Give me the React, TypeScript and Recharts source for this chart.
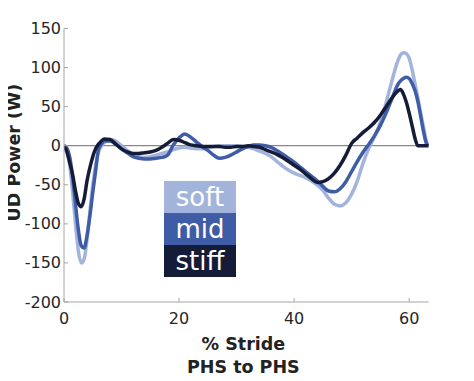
import { LineChart, Line, XAxis, YAxis, ReferenceLine, Legend, Label } from "recharts";

// % stride (PHS to PHS)
const stride = [
  0, 0.5, 1, 1.5, 2, 2.5, 3, 3.5, 4, 4.5, 5, 5.5, 6, 6.5, 7, 8, 9, 10, 11, 12,
  13, 14, 15, 16, 17, 18, 19, 20, 21, 22, 23, 24, 25, 26, 27, 28, 29, 30, 31,
  32, 33, 34, 35, 36, 37, 38, 39, 40, 41, 42, 43, 44, 45, 46, 47, 48, 49, 50,
  51, 52, 53, 54, 55, 56, 57, 58, 58.5, 59, 59.5, 60, 60.5, 61, 61.5, 62, 62.5,
  63, 63.4,
];

// UD power (W)
const soft = [
  0, -5, -25, -60, -100, -135, -150, -145, -120, -85, -50, -25, -8, 0, 4, 8, 6,
  0, -6, -11, -14, -15, -14, -12, -10, -8, -5, -3, -2, -3, -4, -4, -3, -1, 0, 0,
  0, 0, -1, -2, -4, -7, -10, -14, -20, -26, -31, -35, -38, -41, -45, -50, -57,
  -67, -75, -77, -73, -62, -45, -22, -3, 12, 30, 55, 83, 108, 116, 119, 118,
  112, 98, 80, 62, 42, 24, 6, 0,
];

const mid = [
  0, -3, -15, -40, -75, -108, -128, -131, -115, -90, -60, -32, -5, 2, 6, 6, 2,
  -4, -9, -14, -16, -17, -17, -16, -15, -12, 1, 10, 15, 11, 5, -1, -6, -12, -16,
  -15, -12, -8, -4, -1, 1, 1, 0, -2, -6, -11, -16, -21, -27, -33, -39, -45, -52,
  -58, -59, -55, -46, -33, -20, -8, 2, 13, 26, 42, 60, 78, 83, 86, 87.5, 86, 80,
  71, 57, 38, 18, 3, 0,
];

const stiff = [
  0, -8, -22, -37, -58, -74, -78, -68, -45, -28, -14, -4, 2, 6, 8.5, 8, 2, -4,
  -8, -10, -10, -9, -8, -6, -2, 3, 8, 7, 4, 1, 0, -1, -1, -1, -1, -2, -2, -1,
  -1, 0, -1, -2, -5, -8, -11, -15, -20, -25, -30, -36, -42, -47, -46, -42, -35,
  -25, -12, 3, 10, 17, 23, 30, 39, 50, 61, 70, 72, 66, 56, 42, 26, 10, 0, 0, 0,
  0, 0,
];

const xTicks = [0, 20, 40, 60];
const yTicks = [-200, -150, -100, -50, 0, 50, 100, 150];

const series = [
  { key: "soft", color: "#a3b4dc" },
  { key: "mid", color: "#3f5ca6" },
  { key: "stiff", color: "#141c38" },
];

const data = stride.map((x, i) => ({ x, soft: soft[i], mid: mid[i], stiff: stiff[i] }));

const FONT = "'DejaVu Sans', Verdana, sans-serif";

function YTick({ x, y, payload }: any) {
  return (
    <g>
      <text x={x} y={y} textAnchor="end" dominantBaseline="central" fontSize={16} fontFamily={FONT} fill="#262626">
        {payload.value}
      </text>
      <line x1={x + 3} x2={x + 7} y1={y} y2={y} stroke="#a6a6a6" />
    </g>
  );
}

function XTick({ x, y, payload }: any) {
  return (
    <g>
      <text x={x} y={y} dy="0.71em" textAnchor="middle" fontSize={16} fontFamily={FONT} fill="#262626">
        {payload.value}
      </text>
      <line x1={x} x2={x} y1={y - 11} y2={y - 15} stroke="#a6a6a6" />
    </g>
  );
}

function renderLegend() {
  return (
    <div style={{ width: 72, fontFamily: FONT }}>
      {series.map((s) => (
        <div
          key={s.key}
          style={{
            background: s.color,
            color: "#fff",
            height: 32,
            lineHeight: "32px",
            fontSize: 26,
            textAlign: "center",
          }}
        >
          {s.key}
        </div>
      ))}
    </div>
  );
}

export default function App() {
  return (
    <div style={{ marginLeft: -8, marginTop: -8 }}>
      <LineChart
        width={474}
        height={381}
        data={data}
        margin={{ top: 28.5, right: 45.3, left: 8, bottom: 0 }}
      >
        <XAxis
          dataKey="x"
          type="number"
          domain={[0, 63.4]}
          ticks={xTicks}
          tick={<XTick />}
          tickSize={0}
          tickMargin={11}
          height={79}
          axisLine={{ stroke: "#a6a6a6" }}
          allowDataOverflow
        >
          <Label
            content={({ viewBox }: any) => {
              const cx = viewBox.x + viewBox.width / 2 - 3;
              return (
                <g fontFamily={FONT} fontWeight="bold" fontSize={17.5} fill="#222">
                  <text x={cx} y={viewBox.y + 42} textAnchor="middle" dominantBaseline="central">
                    % Stride
                  </text>
                  <text x={cx} y={viewBox.y + 65} textAnchor="middle" dominantBaseline="central">
                    PHS to PHS
                  </text>
                </g>
              );
            }}
          />
        </XAxis>
        <YAxis
          type="number"
          domain={[-200, 150]}
          ticks={yTicks}
          tick={<YTick />}
          tickSize={0}
          tickMargin={3}
          width={56}
          axisLine={{ stroke: "#a6a6a6" }}
          allowDataOverflow
        >
          <Label
            content={({ viewBox }: any) => {
              const lx = viewBox.x + 6.5;
              const ly = viewBox.y + viewBox.height / 2 - 12.7;
              return (
                <text
                  x={lx}
                  y={ly}
                  transform={`rotate(-90 ${lx} ${ly})`}
                  textAnchor="middle"
                  dominantBaseline="central"
                  fontFamily={FONT}
                  fontWeight="bold"
                  fontSize={17.5}
                  fill="#222"
                >
                  UD Power (W)
                </text>
              );
            }}
          />
        </YAxis>
        <ReferenceLine y={0} stroke="#6b6b6b" strokeWidth={1} />
        {series.map((s) => (
          <Line
            key={s.key}
            dataKey={s.key}
            type="monotone"
            stroke={s.color}
            strokeWidth={3.5}
            dot={false}
            isAnimationActive={false}
          />
        ))}
        <Legend
          layout="horizontal"
          verticalAlign="middle"
          align="center"
          content={renderLegend}
          wrapperStyle={{ left: 164, top: 181, width: 72 }}
        />
      </LineChart>
    </div>
  );
}
